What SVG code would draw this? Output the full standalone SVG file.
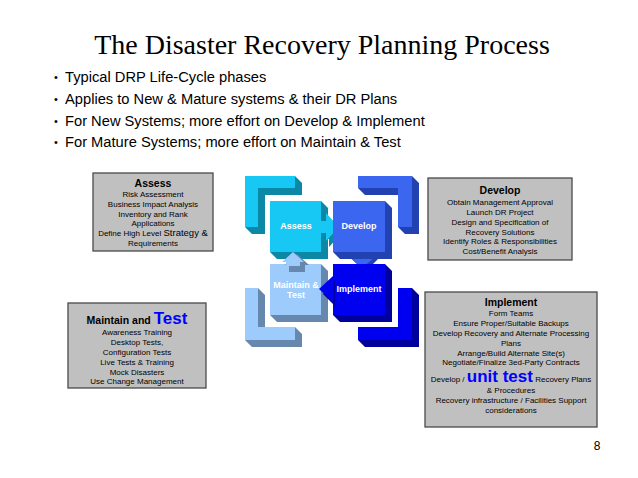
<svg xmlns="http://www.w3.org/2000/svg" width="638" height="478" viewBox="0 0 638 478">
<style>
.title{font-family:"Liberation Serif","Times New Roman",serif;font-size:28px;fill:#000}
.bul{font-family:"Liberation Sans",Arial,sans-serif;font-size:14.7px;fill:#000}
.dot{font-size:11px}
.box{fill:#c0c0c0;stroke:#4a4a4a;stroke-width:1.3}
.bt{font-family:"Liberation Sans",Arial,sans-serif;font-size:8px;fill:#000;text-anchor:middle}
.bh{font-family:"Liberation Sans",Arial,sans-serif;font-size:10.5px;font-weight:bold;fill:#000;text-anchor:middle}
.big{font-size:17px;font-weight:bold;fill:#0000ff}
.lbl{font-family:"Liberation Sans",Arial,sans-serif;font-size:9px;font-weight:bold;fill:#fff;text-anchor:middle}
.cyF{fill:#18c8f4}.cyS{fill:#0a88a6}
.dvF{fill:#3a66f0}.dvS{fill:#2242b2}
.imF{fill:#0000f0}.imS{fill:#00009c}
.mtF{fill:#9ccbfc}.mtS{fill:#6688ae}
</style>
<text class="title" x="322" y="54" text-anchor="middle">The Disaster Recovery Planning Process</text>
<g class="bul">
<text class="dot" x="54" y="81">•</text><text x="65" y="82">Typical DRP Life-Cycle phases</text>
<text class="dot" x="54" y="103">•</text><text x="65" y="104">Applies to New &amp; Mature systems &amp; their DR Plans</text>
<text class="dot" x="54" y="125">•</text><text x="65" y="126">For New Systems; more effort on Develop &amp; Implement</text>
<text class="dot" x="54" y="146">•</text><text x="65" y="147">For Mature Systems; more effort on Maintain &amp; Test</text>
</g>
<!-- corner L shapes -->
<g id="corner-tl">
<polygon class="cyS" points="245,176 295,176 302,183 302,195 265,195 265,234 252,234 245,227"/>
<polygon class="cyF" points="245,176 295,176 295,188 258,188 258,227 245,227"/>
</g>
<g id="corner-tr">
<polygon class="dvS" points="358,176 412,176 419,183 419,234 405,234 398,227 398,195 365,195 358,188"/>
<polygon class="dvF" points="358,176 412,176 412,227 398,227 398,188 358,188"/>
</g>
<g id="corner-bl">
<polygon class="mtS" points="245,288 258,288 265,295 265,327 295,327 302,334 302,347 252,347 245,340"/>
<polygon class="mtF" points="245,288 258,288 258,327 295,327 295,340 245,340"/>
</g>
<g id="corner-br">
<polygon class="imS" points="398,288 412,288 419,295 419,347 365,347 358,340 358,327 398,327"/>
<polygon class="imF" points="398,288 412,288 412,340 358,340 358,327 398,327"/>
</g>
<!-- blocks -->
<g id="assess">
<polygon class="cyS" points="270,201 321,201 328,208 328,259 277,259 270,252"/>
<rect class="cyF" x="270" y="201" width="51" height="51"/>
</g>
<g id="maintain">
<polygon class="mtS" points="270,264 321,264 328,271 328,322 277,322 270,315"/>
<rect class="mtF" x="270" y="264" width="51" height="51"/>
</g>
<g id="connectors">
<g id="arrow-assess-develop">
<polygon class="cyS" points="321,226 329,226 329,219 342,233 329,247 329,239 321,239"/>
<polygon class="cyF" points="321,221 326,221 326,213 339,227 326,241 326,233 321,233"/>
</g>
<g id="arrow-develop-implement">
<polygon class="dvS" points="358,252 372,252 372,258 379,258 365,272 351,258 358,258"/>
<polygon class="dvF" points="354,252 369,252 369,256 376,256 362,268 348,256 354,256"/>
</g>
<g id="arrow-maintain-assess">
<polygon class="mtS" points="289,272 305,272 305,265 309,265 297,254 285,265 289,265"/>
<polygon class="mtF" points="286,266 300,266 300,262 304,262 293,252 282,262 286,262"/>
</g>
</g>
<g id="develop">
<polygon class="dvS" points="333,201 385,201 392,208 392,259 340,259 333,252"/>
<rect class="dvF" x="333" y="201" width="52" height="51"/>
</g>
<g id="implement">
<polygon class="imS" points="333,264 385,264 392,271 392,322 340,322 333,315"/>
<rect class="imF" x="333" y="264" width="52" height="51"/>
</g>
<g id="arrow-implement-maintain">
<polygon class="imS" points="335,280 335,306 323,294"/>
<polygon class="imF" points="333,276 333,302 319,289"/>
</g>
<text class="lbl" x="296" y="229">Assess</text>
<text class="lbl" x="359" y="229">Develop</text>
<text class="lbl" x="296" y="288">Maintain &amp;</text>
<text class="lbl" x="296" y="298">Test</text>
<text class="lbl" x="359" y="292">Implement</text>
<!-- text boxes -->
<g id="box-assess">
<rect class="box" x="93" y="173" width="120" height="78"/>
<text class="bh" x="153" y="187">Assess</text>
<text class="bt" x="153" y="197">Risk Assessment</text>
<text class="bt" x="153" y="207">Business Impact Analysis</text>
<text class="bt" x="153" y="216.5">Inventory and Rank</text>
<text class="bt" x="153" y="226">Applications</text>
<text class="bt" x="153" y="236">Define High Level <tspan font-size="9.5">Strategy &amp;</tspan></text>
<text class="bt" x="153" y="246" font-size="9">Requirements</text>
</g>
<g id="box-develop">
<rect class="box" x="428" y="178" width="144" height="82"/>
<text class="bh" x="500" y="194">Develop</text>
<text class="bt" x="500" y="205">Obtain Management Approval</text>
<text class="bt" x="500" y="215">Launch DR Project</text>
<text class="bt" x="500" y="225">Design and Specification of</text>
<text class="bt" x="500" y="235">Recovery Solutions</text>
<text class="bt" x="500" y="244">Identify Roles &amp; Responsibilities</text>
<text class="bt" x="500" y="254">Cost/Benefit Analysis</text>
</g>
<g id="box-maintain">
<rect class="box" x="68" y="303" width="138" height="85"/>
<text class="bh" x="137" y="324" font-size="10">Maintain and <tspan class="big">Test</tspan></text>
<text class="bt" x="137" y="335">Awareness Training</text>
<text class="bt" x="137" y="345">Desktop Tests,</text>
<text class="bt" x="137" y="355">Configuration Tests</text>
<text class="bt" x="137" y="365">Live Tests &amp; Training</text>
<text class="bt" x="137" y="375">Mock Disasters</text>
<text class="bt" x="137" y="384">Use Change Management</text>
</g>
<g id="box-implement">
<rect class="box" x="425" y="292" width="172" height="135"/>
<text class="bh" x="511" y="306">Implement</text>
<text class="bt" x="511" y="316">Form Teams</text>
<text class="bt" x="511" y="326">Ensure Proper/Suitable Backups</text>
<text class="bt" x="511" y="336">Develop Recovery and Alternate Processing</text>
<text class="bt" x="511" y="346">Plans</text>
<text class="bt" x="511" y="356">Arrange/Build Alternate Site(s)</text>
<text class="bt" x="511" y="365">Negotiate/Finalize 3ed-Party Contracts</text>
<text class="bt" x="511" y="382">Develop / <tspan class="big">unit test</tspan> Recovery Plans</text>
<text class="bt" x="511" y="393">&amp; Procedures</text>
<text class="bt" x="511" y="403">Recovery infrastructure / Facilities Support</text>
<text class="bt" x="511" y="413">considerations</text>
</g>
<text x="597" y="450" font-family="Liberation Sans, Arial, sans-serif" font-size="12" text-anchor="middle">8</text>
</svg>
